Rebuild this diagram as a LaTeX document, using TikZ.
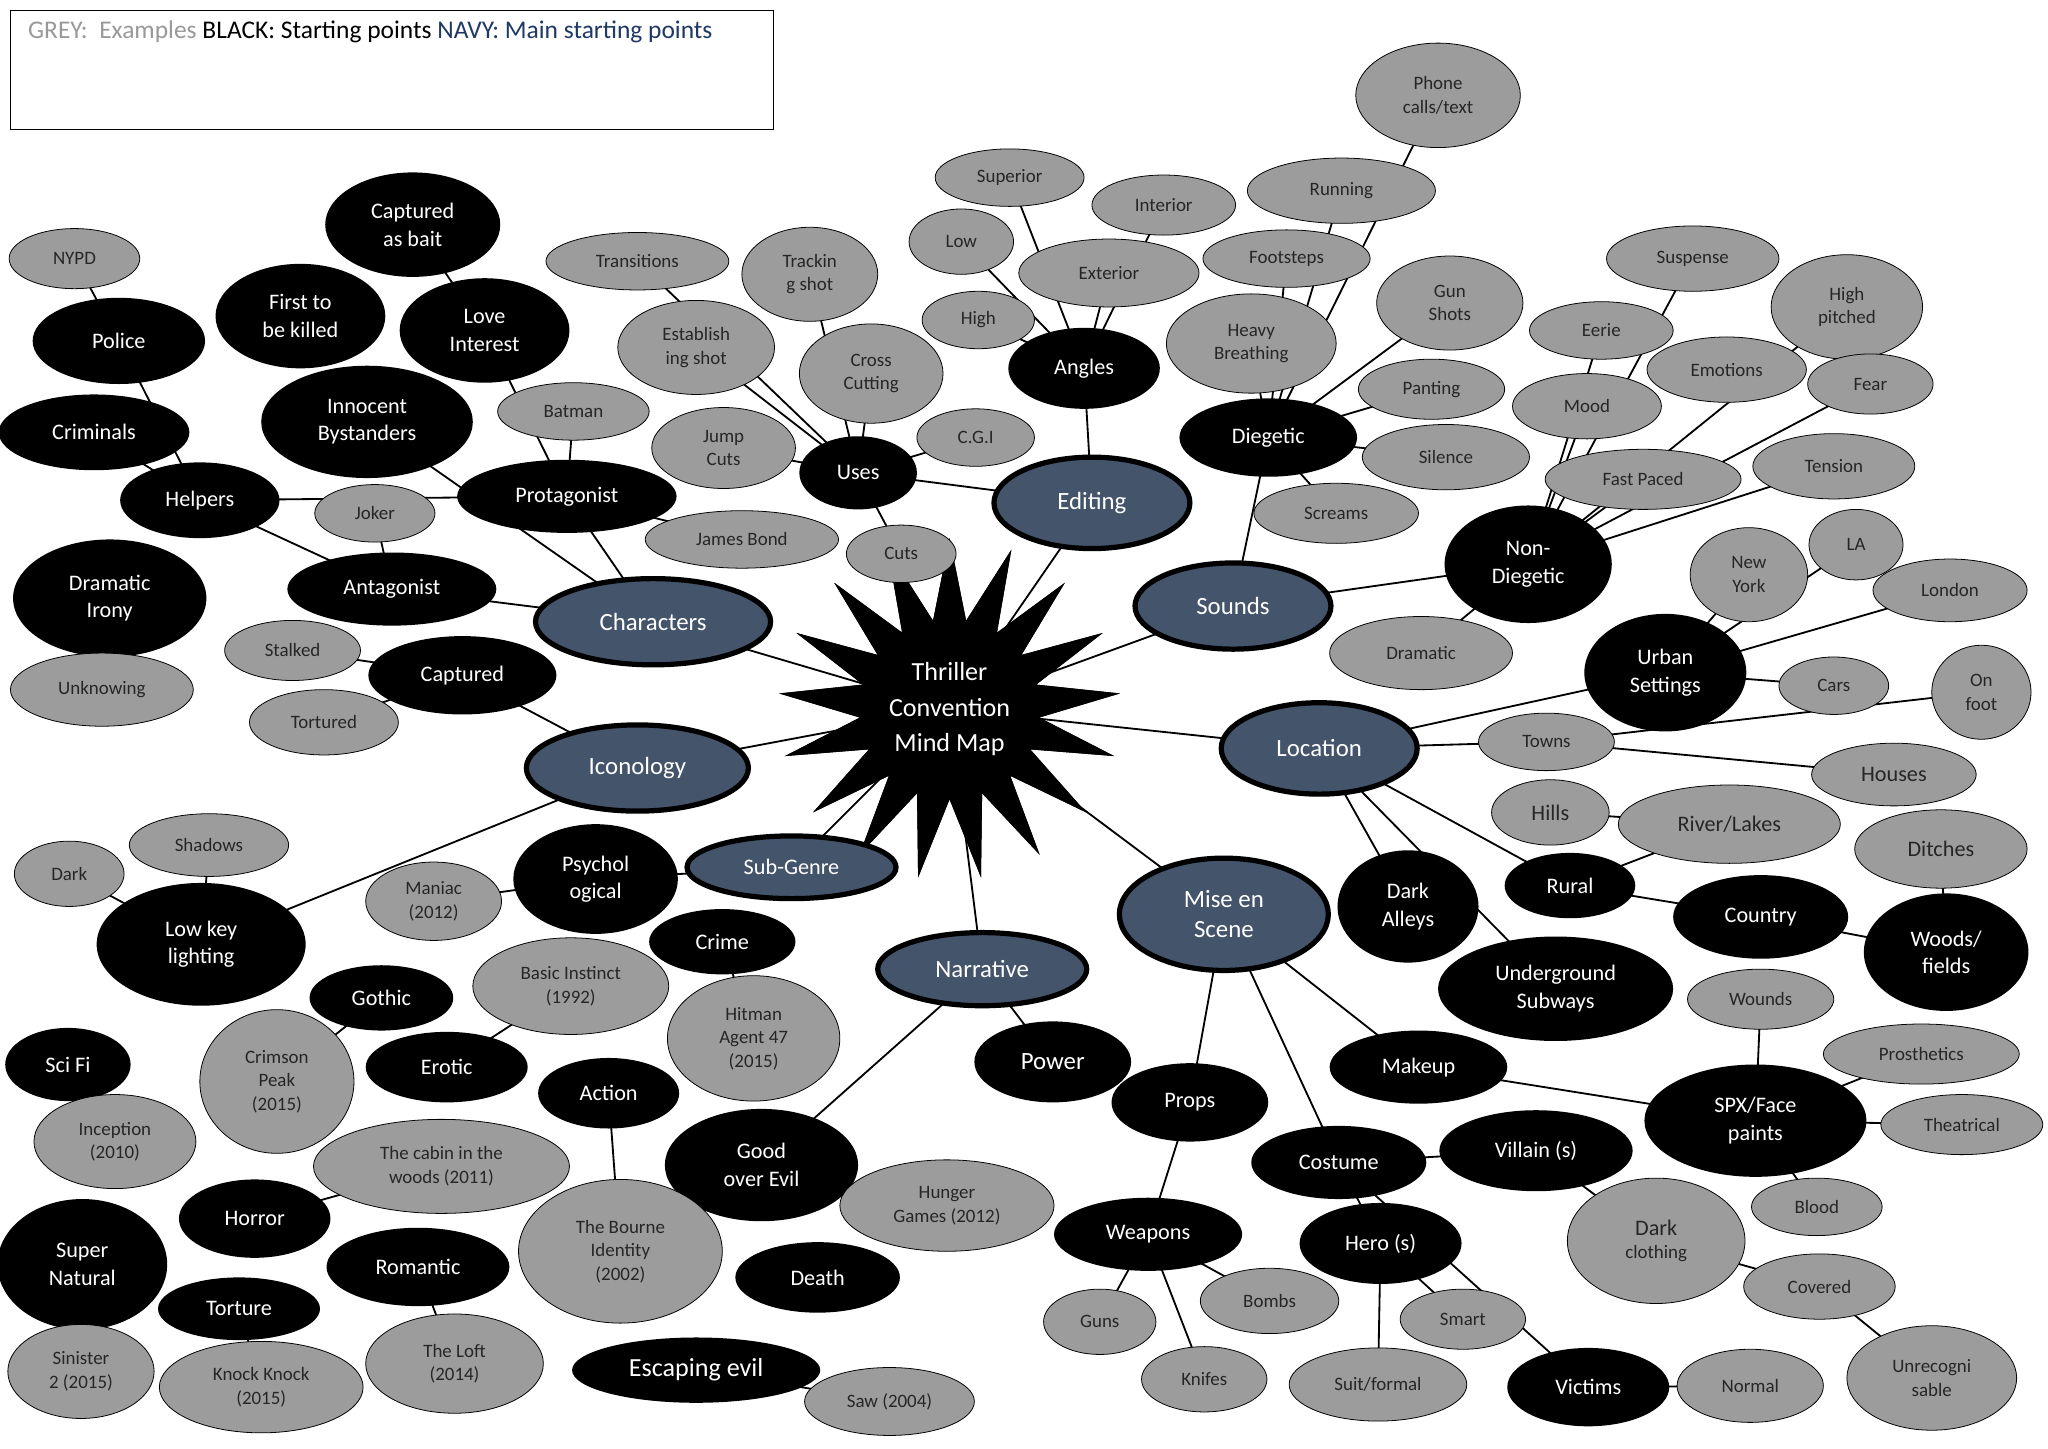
\documentclass[tikz,border=0pt]{standalone}
\usepackage{fontspec}
\setmainfont{Carlito}
\usetikzlibrary{shapes.geometric}
\definecolor{gfill}{HTML}{9C9C9C}
\definecolor{nfill}{HTML}{44546A}
\definecolor{legnavy}{HTML}{1F3864}
\tikzset{
 base/.style={ellipse,inner sep=0pt,align=center},
 blk/.style={base,fill=black,text=white,font=\fontsize{17}{21}\selectfont},
 gry/.style={base,fill=gfill,draw=black,line width=0.6pt,text=black!85,font=\fontsize{14.5}{18}\selectfont},
 nav/.style={base,fill=nfill,draw=black,line width=4pt,text=white,font=\fontsize{19}{23}\selectfont},
 ln/.style={line width=1.4pt,black},
 starshape/.style={star,star points=17,star point ratio=1.9,fill=black,minimum size=262pt,inner sep=0pt}
}
\newcommand\nd[6]{\node[#1,minimum width=#4pt,minimum height=#5pt] (#2) at (#3) {#6};}
\begin{document}
\begin{tikzpicture}[x=1pt,y=-1pt]
\fill[white] (0,0) rectangle (1568,1109);
\useasboundingbox (0,0) rectangle (1568,1109);
\draw[line width=1pt] (8,8) rectangle (592,99);
\node[anchor=west,font=\fontsize{19.5}{22}\selectfont] (leg) at (18,24) {\textcolor{gray!80}{GREY:\ \ Examples} \textcolor{black}{BLACK: Starting points} \textcolor{legnavy}{NAVY: Main starting points}};
\def\P{
\nd{nav}{edit}{836,385}{150}{70}{Editing}
\nd{nav}{char}{500,476}{180}{66}{Characters}
\nd{nav}{snd}{944,464}{150}{66}{Sounds}
\nd{nav}{icon}{488,588}{170}{66}{Iconology}
\nd{nav}{loc}{1010,573}{150}{70}{Location}
\nd{nav}{sub}{606,664}{160}{48}{\fontsize{17}{20}\selectfont Sub-Genre}
\nd{nav}{narr}{752,742}{160}{56}{Narrative}
\nd{nav}{mise}{937,700}{160}{86}{Mise en\\Scene}
\nd{blk}{police}{91,261}{132}{66}{Police}
\nd{blk}{crim}{72,331}{146}{58}{Criminals}
\nd{blk}{help}{153,383}{122}{58}{Helpers}
\nd{blk}{first}{230,242}{130}{80}{First to\\be killed}
\nd{blk}{bait}{316,172}{134}{80}{Captured\\as bait}
\nd{blk}{love}{371,253}{130}{80}{Love\\Interest}
\nd{blk}{inno}{281,323}{162}{86}{Innocent\\Bystanders}
\nd{blk}{prot}{434,380}{168}{56}{Protagonist}
\nd{blk}{anta}{300,451}{160}{56}{Antagonist}
\nd{blk}{irony}{84,458}{148}{90}{Dramatic\\Irony}
\nd{blk}{capt}{354,517}{144}{60}{Captured}
\nd{blk}{lowkey}{154,723}{160}{94}{Low key\\lighting}
\nd{blk}{psych}{456,673}{126}{84}{Psychol\\ogical}
\nd{blk}{crime}{553,721}{112}{50}{Crime}
\nd{blk}{gothic}{292,764}{110}{50}{Gothic}
\nd{blk}{erotic}{342,817}{124}{54}{Erotic}
\nd{blk}{action}{466,837}{108}{54}{Action}
\nd{blk}{scifi}{52,815}{96}{56}{Sci Fi}
\nd{blk}{horror}{195,933}{116}{60}{Horror}
\nd{blk}{super}{63,968}{130}{100}{Super\\Natural}
\nd{blk}{roman}{320,970}{140}{60}{Romantic}
\nd{blk}{tort}{183,1002}{124}{48}{Torture}
\nd{blk}{escape}{533,1049}{190}{50}{\fontsize{20}{22}\selectfont Escaping evil}
\nd{blk}{good}{583,892}{148}{86}{Good\\over Evil}
\nd{blk}{death}{626,978}{126}{54}{Death}
\nd{blk}{power}{806,813}{120}{62}{\fontsize{19}{22}\selectfont Power}
\nd{blk}{uses}{657,362}{90}{56}{Uses}
\nd{blk}{angles}{830,282}{116}{62}{Angles}
\nd{blk}{dieg}{971,335}{136}{60}{Diegetic}
\nd{blk}{ndieg}{1170,432}{128}{90}{Non-\\Diegetic}
\nd{blk}{urban}{1275,515}{124}{90}{Urban\\Settings}
\nd{blk}{alleys}{1078,694}{108}{86}{Dark\\Alleys}
\nd{blk}{rural}{1202,678}{100}{50}{Rural}
\nd{blk}{country}{1348,702}{134}{64}{Country}
\nd{blk}{woods}{1490,729}{126}{90}{Woods/\\fields}
\nd{blk}{under}{1191,757}{180}{80}{Underground\\Subways}
\nd{blk}{makeup}{1086,817}{136}{56}{Makeup}
\nd{blk}{spx}{1344,858}{170}{86}{SPX/Face\\paints}
\nd{blk}{props}{911,844}{120}{60}{Props}
\nd{blk}{cost}{1025,890}{134}{56}{Costume}
\nd{blk}{villain}{1176,881}{148}{62}{Villain (s)}
\nd{blk}{weap}{879,945}{144}{56}{Weapons}
\nd{blk}{hero}{1057,952}{124}{62}{Hero (s)}
\nd{blk}{victims}{1216,1062}{124}{60}{Victims}
\nd{gry}{nypd}{57,198}{100}{46}{NYPD}
\nd{gry}{unkn}{78,528}{140}{56}{Unknowing}
\nd{gry}{stalk}{224,498}{104}{46}{Stalked}
\nd{gry}{tortd}{248,553}{114}{50}{Tortured}
\nd{gry}{joker}{287,393}{92}{44}{Joker}
\nd{gry}{batman}{439,315}{116}{44}{Batman}
\nd{gry}{bond}{568,413}{148}{44}{James Bond}
\nd{gry}{trans}{488,200}{140}{44}{Transitions}
\nd{gry}{track}{620,210}{104}{72}{Trackin\\g shot}
\nd{gry}{estab}{533,266}{120}{72}{Establish\\ing shot}
\nd{gry}{cross}{667,286}{110}{76}{Cross\\Cutting}
\nd{gry}{jump}{554,343}{110}{62}{Jump\\Cuts}
\nd{gry}{cgi}{747,335}{90}{44}{C.G.I}
\nd{gry}{cuts}{690,424}{84}{44}{Cuts}
\nd{gry}{superior}{773,136}{114}{44}{Superior}
\nd{gry}{low}{736,185}{80}{50}{Low}
\nd{gry}{interior}{891,157}{110}{46}{Interior}
\nd{gry}{exterior}{849,209}{138}{52}{Exterior}
\nd{gry}{high}{749,245}{86}{44}{High}
\nd{gry}{phone}{1101,73}{126}{80}{Phone\\calls/text}
\nd{gry}{running}{1027,146}{144}{50}{Running}
\nd{gry}{foot}{985,198}{128}{44}{Footsteps}
\nd{gry}{gun}{1110,232}{112}{72}{Gun\\Shots}
\nd{gry}{heavy}{958,263}{130}{76}{Heavy\\Breathing}
\nd{gry}{pant}{1096,298}{112}{46}{Panting}
\nd{gry}{silence}{1107,350}{128}{50}{Silence}
\nd{gry}{scream}{1023,393}{126}{46}{Screams}
\nd{gry}{susp}{1296,198}{132}{50}{Suspense}
\nd{gry}{eerie}{1226,253}{110}{44}{Eerie}
\nd{gry}{hpitch}{1414,235}{116}{80}{High\\pitched}
\nd{gry}{emot}{1322,283}{122}{50}{Emotions}
\nd{gry}{fear}{1432,294}{96}{46}{Fear}
\nd{gry}{mood}{1215,311}{114}{50}{Mood}
\nd{gry}{fast}{1258,367}{150}{46}{Fast Paced}
\nd{gry}{tension}{1404,357}{124}{50}{Tension}
\nd{gry}{dram}{1088,500}{140}{56}{Dramatic}
\nd{gry}{ny}{1339,440}{90}{72}{New\\York}
\nd{gry}{la}{1421,417}{72}{54}{LA}
\nd{gry}{london}{1493,452}{118}{48}{London}
\nd{gry}{cars}{1404,525}{84}{44}{Cars}
\nd{gry}{onfoot}{1517,530}{76}{72}{On\\foot}
\nd{gry}{towns}{1184,568}{104}{44}{Towns}
\nd{gry}{houses}{1450,593}{126}{48}{\fontsize{17}{19}\selectfont Houses}
\nd{gry}{hills}{1187,622}{90}{50}{\fontsize{17}{19}\selectfont Hills}
\nd{gry}{river}{1324,631}{170}{60}{\fontsize{17}{19}\selectfont River/Lakes}
\nd{gry}{ditch}{1486,650}{132}{60}{\fontsize{17}{19}\selectfont Ditches}
\nd{gry}{wounds}{1348,765}{112}{46}{Wounds}
\nd{gry}{prost}{1471,807}{150}{46}{Prosthetics}
\nd{gry}{theat}{1502,861}{124}{46}{Theatrical}
\nd{gry}{blood}{1391,924}{100}{44}{Blood}
\nd{gry}{dclo}{1268,950}{136}{96}{\fontsize{17}{22}\selectfont Dark\\clothing}
\nd{gry}{covered}{1393,985}{116}{50}{Covered}
\nd{gry}{unrec}{1479,1055}{130}{80}{Unrecogni\\sable}
\nd{gry}{normal}{1340,1061}{112}{56}{Normal}
\nd{gry}{smart}{1120,1010}{96}{46}{Smart}
\nd{gry}{suit}{1055,1060}{136}{56}{Suit/formal}
\nd{gry}{bombs}{972,996}{106}{50}{Bombs}
\nd{gry}{guns}{842,1012}{86}{50}{Guns}
\nd{gry}{knifes}{922,1056}{96}{50}{Knifes}
\nd{gry}{hunger}{725,923}{164}{70}{Hunger\\Games (2012)}
\nd{gry}{hitman}{577,795}{132}{96}{Hitman\\Agent 47\\(2015)}
\nd{gry}{basic}{437,755}{150}{74}{Basic Instinct\\(1992)}
\nd{gry}{maniac}{332,690}{104}{60}{Maniac\\(2012)}
\nd{gry}{shadows}{160,647}{122}{48}{Shadows}
\nd{gry}{dark}{53,669}{84}{50}{Dark}
\nd{gry}{crimson}{212,828}{118}{110}{Crimson\\Peak\\(2015)}
\nd{gry}{incep}{88,874}{124}{72}{Inception\\(2010)}
\nd{gry}{cabin}{338,893}{196}{72}{The cabin in the\\woods (2011)}
\nd{gry}{bourne}{475,958}{156}{110}{The Bourne\\Identity\\(2002)}
\nd{gry}{sinister}{62,1050}{112}{72}{Sinister\\2 (2015)}
\nd{gry}{knock}{200,1062}{156}{70}{Knock Knock\\(2015)}
\nd{gry}{loft}{348,1044}{136}{76}{The Loft\\(2014)}
\nd{gry}{saw}{681,1073}{130}{52}{Saw (2004)}
}
\begin{scope}[every node/.append style={opacity=0}]\P\end{scope}
\node[starshape] (star) at (727,543) {};
\foreach \a/\b in {star/edit,star/char,star/snd,star/icon,star/loc,star/sub,star/narr,star/mise,
edit/uses,edit/angles,uses/trans,uses/track,uses/estab,uses/cross,uses/jump,uses/cgi,uses/cuts,
angles/superior,angles/low,angles/interior,angles/exterior,angles/high,
char/prot,char/anta,char/inno,prot/batman,prot/bond,prot/love,prot/help,
help/police,help/crim,help/anta,police/nypd,love/bait,anta/joker,irony/unkn,
icon/capt,capt/stalk,capt/tortd,icon/lowkey,lowkey/shadows,lowkey/dark,
sub/psych,psych/maniac,crime/hitman,gothic/crimson,erotic/basic,action/bourne,scifi/incep,horror/cabin,roman/loft,tort/knock,super/sinister,escape/saw,
narr/good,narr/power,good/hunger,
snd/dieg,snd/ndieg,dieg/phone,dieg/running,dieg/foot,dieg/gun,dieg/heavy,dieg/pant,dieg/silence,dieg/scream,
ndieg/susp,ndieg/eerie,ndieg/hpitch,ndieg/fear,ndieg/mood,ndieg/fast,ndieg/tension,ndieg/dram,
loc/urban,loc/towns,loc/rural,loc/alleys,loc/under,urban/ny,urban/la,urban/london,urban/cars,towns/houses,towns/onfoot,
hills/river,rural/river,rural/country,country/woods,woods/ditch,
mise/props,mise/cost,mise/makeup,makeup/spx,spx/wounds,spx/prost,spx/theat,spx/blood,
props/weap,weap/guns,weap/bombs,weap/knifes,cost/villain,cost/hero,cost/victims,villain/dclo,dclo/covered,covered/unrec,hero/smart,hero/suit,victims/normal}
{\draw[ln] (\a.center) -- (\b.center);}
\node[starshape] (star2) at (727,543) {};
\node[align=center,text=white,font=\fontsize{20}{27}\selectfont] (startxt) at (727,543) {Thriller\\Convention\\Mind Map};
\P
\end{tikzpicture}
\end{document}
